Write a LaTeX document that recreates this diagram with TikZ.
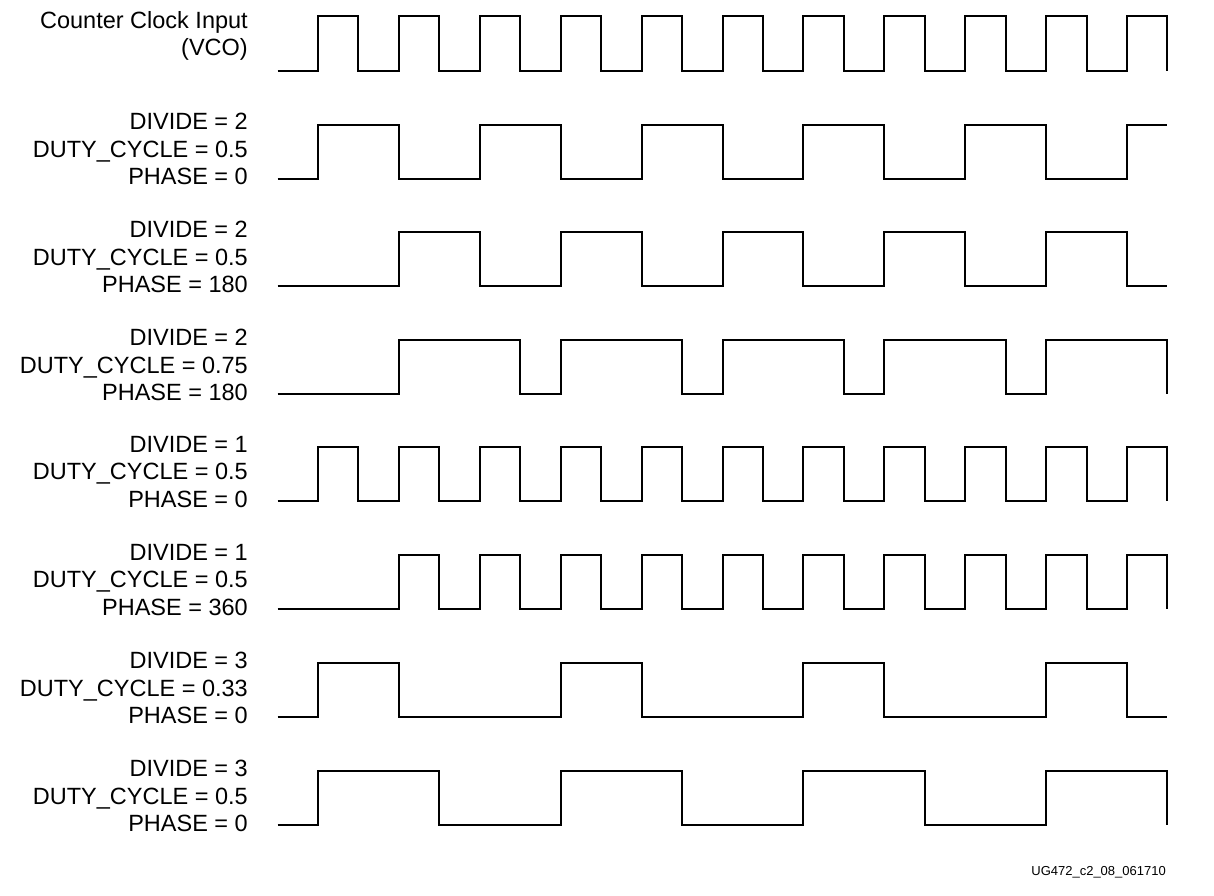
\documentclass[tikz,border=0pt]{standalone}
\usepackage{fontspec}
\setmainfont{Liberation Sans}
\begin{document}
\begin{tikzpicture}[x=1pt,y=-1pt,
  lbl/.style={anchor=east,align=right,font=\fontsize{23.5}{27.5}\selectfont,inner sep=0pt},
  wave/.style={line width=2pt,line join=miter}]
\useasboundingbox (0,0) rectangle (1214,895);
% labels
\node[lbl] (l1) at (248,36) {Counter Clock Input\\(VCO)};
\node[lbl] (l2) at (248,149) {DIVIDE = 2\\DUTY\_CYCLE = 0.5\\PHASE = 0};
\node[lbl] (l3) at (248,257) {DIVIDE = 2\\DUTY\_CYCLE = 0.5\\PHASE = 180};
\node[lbl] (l4) at (248,365) {DIVIDE = 2\\DUTY\_CYCLE = 0.75\\PHASE = 180};
\node[lbl] (l5) at (248,472) {DIVIDE = 1\\DUTY\_CYCLE = 0.5\\PHASE = 0};
\node[lbl] (l6) at (248,580) {DIVIDE = 1\\DUTY\_CYCLE = 0.5\\PHASE = 360};
\node[lbl] (l7) at (248,688) {DIVIDE = 3\\DUTY\_CYCLE = 0.33\\PHASE = 0};
\node[lbl] (l8) at (248,796) {DIVIDE = 3\\DUTY\_CYCLE = 0.5\\PHASE = 0};
\node[anchor=east,font=\fontsize{13}{15}\selectfont,inner sep=0pt] (ft) at (1166,872) {UG472\_c2\_08\_061710};
% waves
\begin{scope}[x=40.45pt,xshift=318pt]
\draw[wave] (-1,71) \foreach \r in {0,2,...,20} { -- (\r,71) -- (\r,16) -- (\r+1,16) -- (\r+1,71) };
\draw[wave] (-1,179) \foreach \r/\f in {0/2,4/6,8/10,12/14,16/18} { -- (\r,179) -- (\r,125) -- (\f,125) -- (\f,179) } -- (20,179) -- (20,125) -- (21,125);
\draw[wave] (-1,286) \foreach \r/\f in {2/4,6/8,10/12,14/16,18/20} { -- (\r,286) -- (\r,232) -- (\f,232) -- (\f,286) } -- (21,286);
\draw[wave] (-1,394) \foreach \r/\f in {2/5,6/9,10/13,14/17,18/21} { -- (\r,394) -- (\r,340) -- (\f,340) -- (\f,394) };
\draw[wave] (-1,501) \foreach \r in {0,2,...,20} { -- (\r,501) -- (\r,447) -- (\r+1,447) -- (\r+1,501) };
\draw[wave] (-1,609) \foreach \r in {2,4,...,20} { -- (\r,609) -- (\r,555) -- (\r+1,555) -- (\r+1,609) };
\draw[wave] (-1,717) \foreach \r/\f in {0/2,6/8,12/14,18/20} { -- (\r,717) -- (\r,663) -- (\f,663) -- (\f,717) } -- (21,717);
\draw[wave] (-1,825) \foreach \r/\f in {0/3,6/9,12/15,18/21} { -- (\r,825) -- (\r,771) -- (\f,771) -- (\f,825) };
\end{scope}
\end{tikzpicture}
\end{document}
